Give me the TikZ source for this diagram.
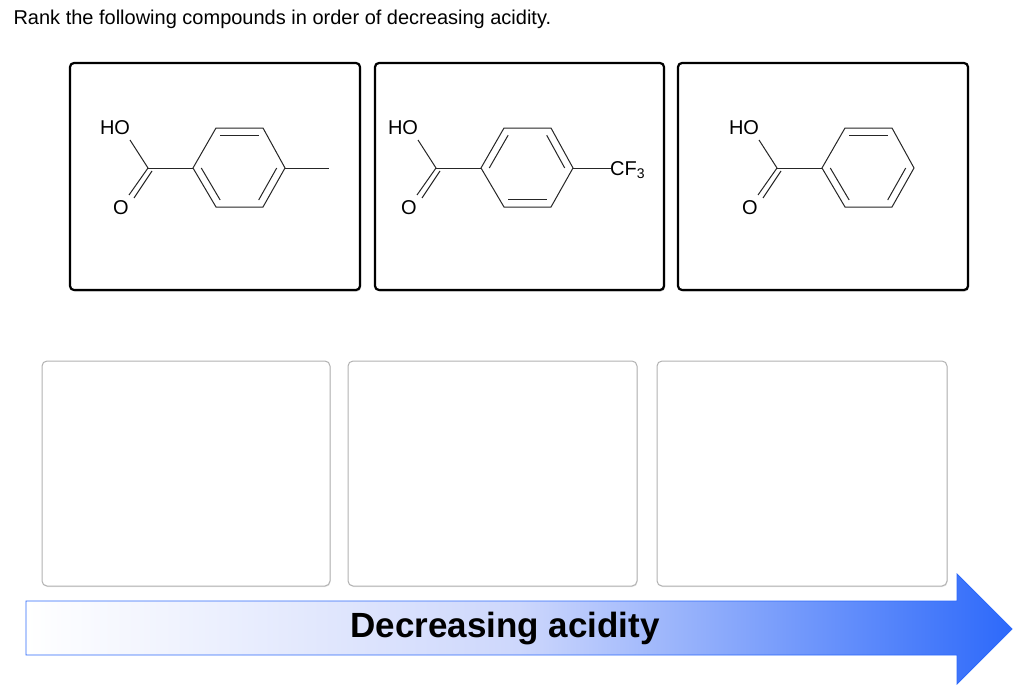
\documentclass[tikz,border=0pt]{standalone}
\usepackage{fontspec}
\setmainfont{Liberation Sans}
\usetikzlibrary{calc,shadows}
\definecolor{arrowblue}{RGB}{45,105,250}
\definecolor{arrowmid}{RGB}{205,215,252}
\tikzset{
  topbox/.style={draw=black,line width=2.2pt,rounded corners=4pt,fill=white,drop shadow={shadow xshift=1pt,shadow yshift=-1.5pt,opacity=0.4}},
  ansbox/.style={draw=black!30,line width=1pt,rounded corners=5pt,fill=white,drop shadow={shadow xshift=0.5pt,shadow yshift=-1pt,opacity=0.2}},
  bond/.style={line width=1pt,black!85},
  atom/.style={font=\fontsize{20}{20}\selectfont,inner sep=1pt}
}
\newcommand{\molecule}[4]{% name, origin, double set, substituent
  \begin{scope}[shift={#2}]
    \coordinate (#1a) at (0,0);
    \coordinate (#1b) at (23,-40);
    \coordinate (#1c) at (70,-40);
    \coordinate (#1d) at (92,0);
    \coordinate (#1e) at (70,39);
    \coordinate (#1f) at (23,39);
    \coordinate (#1m) at (46,0);
    \coordinate (#1C) at (-45,0);
    \node[atom] (#1HO) at (-78,-40) {HO};
    \node[atom] (#1O) at (-72,40) {O};
    \draw[bond] (#1a)--(#1b)--(#1c)--(#1d)--(#1e)--(#1f)--cycle;
    \draw[bond] (#1a)--(#1C);
    \draw[bond] (#1C)--(-63,-28);
    \draw[bond] (#1C)--(-64,27);
    \draw[bond] (-41,3)--(-59,30);
    \foreach \p/\q in {#3}{\draw[bond] ($(#1m)!0.82!(#1\p)$)--($(#1m)!0.82!(#1\q)$);}
    #4
  \end{scope}}
\begin{document}
\begin{tikzpicture}[x=1pt,y=-1pt]
\useasboundingbox (0,0) rectangle (1024,698);
\node[anchor=west,font=\fontsize{20}{20}\selectfont] (title) at (10,19) {Rank the following compounds in order of decreasing acidity.};
\draw[topbox] (70,63) rectangle (360,290);
\draw[topbox] (375,63) rectangle (664,290);
\draw[topbox] (678,63) rectangle (968,290);
\draw[ansbox] (42,361) rectangle (330,586);
\draw[ansbox] (348,361) rectangle (637,586);
\draw[ansbox] (657,361) rectangle (947,586);
\molecule{m1}{(193,168)}{b/c,a/f,d/e}{\draw[bond] (m1d)--(136,0);}
\molecule{m2}{(481,168)}{a/b,c/d,f/e}{\node[atom,anchor=west] (cf) at (128,2) {CF\textsubscript{3}}; \draw[bond] (m2d)--(130,0);}
\molecule{m3}{(822,168)}{b/c,d/e,a/f}{}
\shade[left color=white,right color=arrowblue,middle color=arrowmid,draw=arrowblue,line width=0.8pt]
  (26,601) -- (957,601) -- (957,574) -- (1012,629) -- (957,684) -- (957,655) -- (26,655) -- cycle;
\node[font=\bfseries\fontsize{35}{35}\selectfont] (lbl) at (505,629) {Decreasing acidity};
\end{tikzpicture}
\end{document}
